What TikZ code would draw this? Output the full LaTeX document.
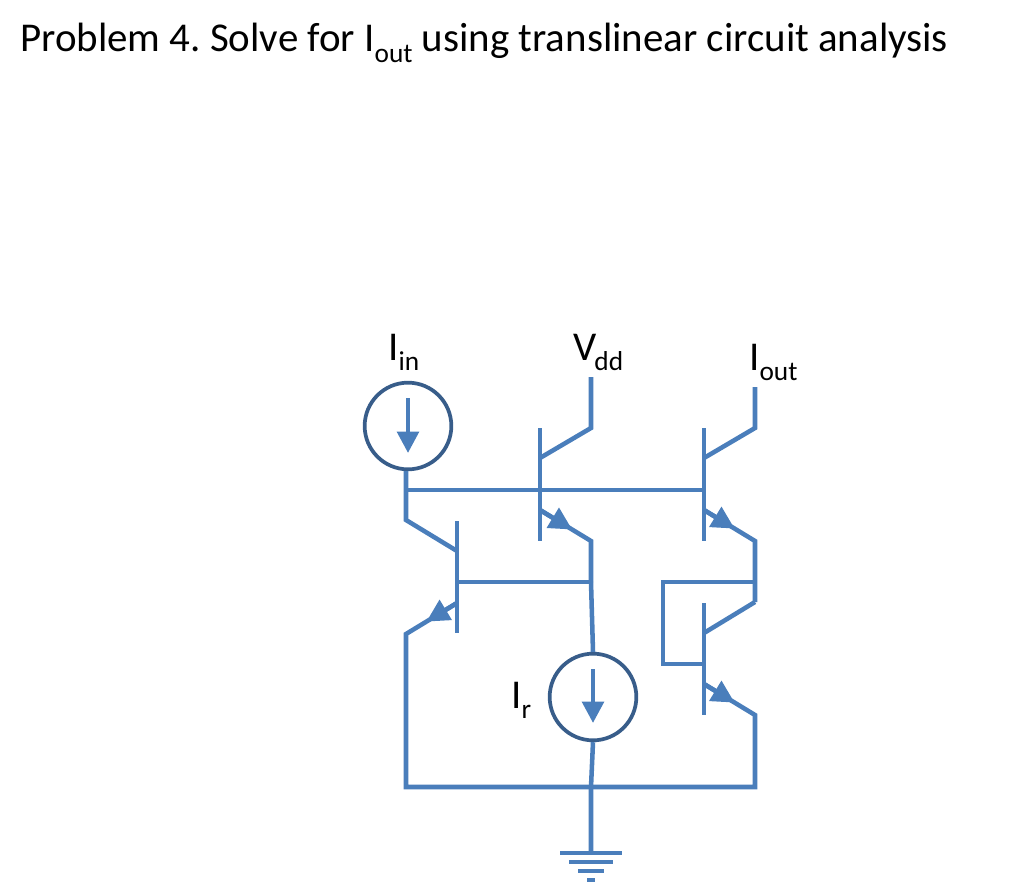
\documentclass[tikz,border=0pt]{standalone}
\usepackage{fontspec}
\setmainfont{Carlito}
\usetikzlibrary{arrows.meta,calc}
\frenchspacing
\newcommand{\lowsub}[1]{\raisebox{-8pt}{\fontsize{20.5pt}{22pt}\selectfont #1}}
\tikzset{
  x=0.75pt,y=-0.75pt,
  wire/.style={draw=wireblue,line width=3.4pt,line join=miter},
  barline/.style={draw=wireblue,line width=3.4pt},
  gnd/.style={draw=wireblue,line width=3.2pt},
  source/.style={circle,draw=srcblue,line width=2.8pt,minimum size=65pt,inner sep=0pt},
  flow/.style={draw=wireblue,line width=3.4pt,-{Triangle[length=16pt,width=16pt,fill=wireblue]}},
  emit/.style={draw=wireblue,line width=3.4pt,-{Triangle[length=17pt,width=17pt,fill=wireblue]}},
  lbl/.style={font=\fontsize{30.7pt}{33pt}\selectfont,anchor=base west,inner sep=0pt,text=black},
}
\definecolor{wireblue}{HTML}{4A7EBB}
\definecolor{srcblue}{HTML}{385D8A}
\begin{document}
\begin{tikzpicture}
\useasboundingbox (0,0) rectangle (1024,892);
% title and labels
\node[lbl] (title) at (20,52) {Problem 4. Solve for I\lowsub{out} using translinear circuit analysis};
\node[lbl] (lin) at (388,360) {I\lowsub{in}};
\node[lbl] (lvdd) at (573,360) {V\kern-1.5pt\lowsub{dd}};
\node[lbl] (lout) at (749,370) {I\lowsub{out}};
\node[lbl] (lr) at (511,708) {I\lowsub{r}};
% sources
\node[source] (sin) at (408,426) {};
\node[source] (sr) at (593,697) {};
\coordinate (sinA) at (408,398); \coordinate (sinB) at (408,453);
\coordinate (srA) at (593,669); \coordinate (srB) at (593,723);
\draw[flow] (sinA) -- (sinB);
\draw[flow] (srA) -- (srB);
% T1
\coordinate (t1top) at (457,521); \coordinate (t1bot) at (457,633);
\coordinate (t1c) at (457,551); \coordinate (t1e) at (457,603);
\coordinate (t1b) at (457,582);
\coordinate (inj) at (406,490); \coordinate (inb) at (406,520);
\coordinate (t1k) at (406,634); \coordinate (lbot) at (406,787);
\draw[barline] (t1top) -- (t1bot);
\draw[wire] (sin.south -| inj) -- (inj) -- (inb) -- (t1c);
\draw[emit] (t1e) -- ($(t1e)!0.6!(t1k)$);
% T2
\coordinate (t2top) at (540,428); \coordinate (t2bot) at (540,541);
\coordinate (t2c) at (540,458); \coordinate (t2e) at (540,510);
\coordinate (t2k) at (591,428); \coordinate (vdd) at (591,377);
\coordinate (t2m) at (591,541); \coordinate (t2n) at (591,582);
\draw[barline] (t2top) -- (t2bot);
\draw[wire] (vdd) -- (t2k) -- (t2c);
\draw[wire] (t2e) -- (t2m) -- (t2n);
\draw[wire] (t2n) -- (sr.north);
\draw[emit] (t2e) -- ($(t2e)!0.63!(t2m)$);
\draw[wire] (t1b) -- (t2n);
% T3
\coordinate (t3top) at (704,428); \coordinate (t3bot) at (704,541);
\coordinate (t3c) at (704,458); \coordinate (t3e) at (704,510);
\coordinate (t3b) at (704,490);
\coordinate (t3k) at (755,428); \coordinate (iout) at (755,387);
\coordinate (t3m) at (755,541); \coordinate (t3n) at (755,602);
\draw[barline] (t3top) -- (t3bot);
\draw[wire] (iout) -- (t3k) -- (t3c);
\draw[wire] (t3e) -- (t3m) -- (t3n);
\draw[emit] (t3e) -- ($(t3e)!0.6!(t3m)$);
\draw[wire] (inj) -- (t3b);
% T4
\coordinate (t4top) at (704,603); \coordinate (t4bot) at (704,715);
\coordinate (t4c) at (704,633);
\coordinate (t4e) at (704,684); \coordinate (t4b) at (704,664);
\coordinate (t4m) at (755,715); \coordinate (rbot) at (755,787);
\coordinate (fbr) at (755,582); \coordinate (fbl) at (663,582); \coordinate (fbd) at (663,664);
\draw[barline] (t4top) -- (t4bot);
\draw[wire] (t3n) -- (t4c);
\draw[wire] (fbr) -- (fbl) -- (fbd) -- (t4b);
\draw[wire] (t1e) -- (t1k) -- (lbot) -- (rbot) -- (t4m) -- (t4e);
\draw[emit] (t4e) -- ($(t4e)!0.6!(t4m)$);
% ground
\coordinate (gtop) at (591,787); \coordinate (g1) at (591,853);
\coordinate (g1a) at (560,853); \coordinate (g1b) at (622,853);
\coordinate (g2a) at (569,862); \coordinate (g2b) at (613,862);
\coordinate (g3a) at (578,871); \coordinate (g3b) at (604,871);
\coordinate (g4a) at (587,880); \coordinate (g4b) at (595,880);
\draw[wire] (sr.south) -- (gtop) -- (g1);
\draw[gnd] (g1a) -- (g1b);
\draw[gnd] (g2a) -- (g2b);
\draw[gnd] (g3a) -- (g3b);
\draw[gnd] (g4a) -- (g4b);
\end{tikzpicture}
\end{document}
